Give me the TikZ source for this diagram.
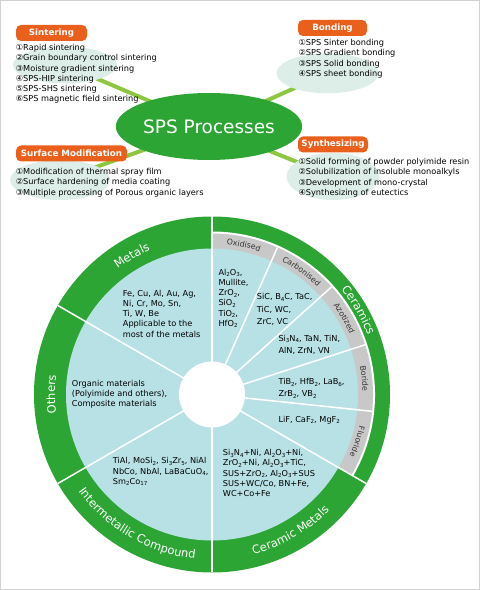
\documentclass[tikz,border=0pt]{standalone}
\usepackage{fontspec}
\setmainfont{DejaVu Sans}
\usetikzlibrary{shapes,positioning,decorations.text,backgrounds}
\definecolor{spsgreen}{RGB}{44,165,52}
\definecolor{spslink}{RGB}{141,198,63}
\definecolor{spsorange}{RGB}{232,96,28}
\definecolor{spsmint}{RGB}{221,238,233}
\definecolor{spsblue}{RGB}{184,225,230}
\definecolor{spsgray}{RGB}{200,200,200}
\definecolor{spsframe}{RGB}{210,210,210}
\newcommand{\sbs}[1]{\raisebox{-0.3ex}{\fontsize{5.5}{6}\selectfont #1}}
\newcommand{\bodyfont}{\fontsize{8.2}{10.2}\selectfont}
\newcommand{\ringfont}{\fontsize{11.5}{12}\selectfont}
\newcommand{\bandfont}{\fontsize{7.8}{8}\selectfont}
\tikzstyle{tag} = [rectangle, rounded corners=5pt, fill=spsorange, text=white, font=\fontsize{8.7}{9}\selectfont\bfseries, minimum height=16pt, inner sep=0pt]
\tikzstyle{blob} = [ellipse, fill=spsmint, inner sep=0pt]
\tikzstyle{link} = [line width=4pt, spslink]
% multi-line text: the base anchor sits on the last line
\tikzstyle{items} = [anchor=base west, align=left, inner sep=0pt, font=\bodyfont]
\tikzstyle{divider} = [white, line width=1.5pt]
\tikzset{
  ringlabel/.style={decorate, decoration={text along path, text align=center, text color=white, text={|\ringfont|#1}}},
  bandlabel/.style={decorate, decoration={text along path, text align=center, text color=black!80, text={|\bandfont|#1}}}
}

\begin{document}
\begin{tikzpicture}[x=1pt, y=1pt]
\useasboundingbox (0,0) rectangle (480,590);
\draw[spsframe, line width=1pt] (0.5,0.5) rectangle (479.5,589.5);

% Process map
\node[blob, minimum width=104, minimum height=37] (sinblob) at (65,525) {};
\node[blob, minimum width=102, minimum height=40] (bonblob) at (327.5,516.7) {};
\node[blob, minimum width=100, minimum height=40] (surblob) at (60,410) {};
\node[blob, minimum width=93, minimum height=47] (synblob) at (333,413.5) {};
\node[ellipse, fill=spsgreen, text=white, minimum width=158, minimum height=67, inner sep=0pt,
      font=\fontsize{18.5}{20}\selectfont] (core) at (209,463.5) {SPS Processes};
\begin{pgfonlayer}{background}
\foreach \b in {sinblob,bonblob,surblob,synblob}
  \draw[link] (\b.center) -- (core.center);
\end{pgfonlayer}

\node[tag, minimum width=71] (sintag) at (51.5,557) {Sintering};
\node[items] (sinlist) at (15.7,488.3) {①Rapid sintering\\②Grain boundary control sintering\\③Moisture gradient sintering\\④SPS-HIP sintering\\⑤SPS-SHS sintering\\⑥SPS magnetic field sintering};

\node[tag, minimum width=69] (bontag) at (332.5,562) {Bonding};
\node[items] (bonlist) at (298.3,513.7) {①SPS Sinter bonding\\②SPS Gradient bonding\\③SPS Solid bonding\\④SPS sheet bonding};

\node[tag, minimum width=111] (surtag) at (71.5,436.5) {Surface Modification};
\node[items] (surlist) at (15.7,394.9) {①Modification of thermal spray film\\②Surface hardening of media coating\\③Multiple processing of Porous organic layers};

\node[tag, minimum width=70] (syntag) at (333,445.5) {Synthesizing};
\node[items] (synlist) at (298.3,394.7) {①Solid forming of powder polyimide resin\\②Solubilization of insoluble monoalkyls\\③Development of mono-crystal\\④Synthesizing of eutectics};

% Materials wheel
\begin{scope}[shift={(212,195.5)}]
\fill[spsgreen] (0,0) circle[radius=178];
\fill[white] (0,0) -- (-30:163) arc[start angle=-30, end angle=90, radius=163] -- cycle;
\fill[spsgray] (0,0) -- (-30:161) arc[start angle=-30, end angle=90, radius=161] -- cycle;
\fill[spsblue] (0,0) circle[radius=146];
\foreach \a in {90,150,210,270,330}
  \draw[divider] (0,0) -- (\a:178);
\foreach \a in {66,42,18,-6}
  \draw[divider] (0,0) -- (\a:161);
\fill[white] (0,0) circle[radius=33];

\path[ringlabel=Metals] (150:157) arc[start angle=150, end angle=90, radius=157];
\path[ringlabel=Others] (210:157) arc[start angle=210, end angle=150, radius=157];
\path[ringlabel=Ceramics] (90:166.5) arc[start angle=90, end angle=-30, radius=166.5];
\path[ringlabel=Intermetallic Compound] (210:165) arc[start angle=210, end angle=270, radius=165];
\path[ringlabel=Ceramic Metals] (270:165) arc[start angle=270, end angle=330, radius=165];

\path[bandlabel=Oxidised] (90:150.6) arc[start angle=90, end angle=66, radius=150.6];
\path[bandlabel=Carbonised] (66:150.6) arc[start angle=66, end angle=42, radius=150.6];
\path[bandlabel=Azotized] (42:150.6) arc[start angle=42, end angle=18, radius=150.6];
\path[bandlabel=Boride] (18:150.6) arc[start angle=18, end angle=-6, radius=150.6];
\path[bandlabel=Fluoride] (-6:150.6) arc[start angle=-6, end angle=-30, radius=150.6];
\end{scope}

\node[items] (metaltxt) at (122.7,252.9) {Fe, Cu, Al, Au, Ag,\\Ni, Cr, Mo, Sn,\\Ti, W, Be\\Applicable to the\\most of the metals};
\node[items] (oxitxt) at (218.3,263.7) {Al\sbs{2}O\sbs{3},\\Mullite,\\ZrO\sbs{2},\\SiO\sbs{2}\\TiO\sbs{2},\\HfO\sbs{2}};
\node[items] (carbtxt) at (256.7,265.1) {SiC, B\sbs{4}C, TaC,\\[2.4pt]TiC, WC,\\[2.4pt]ZrC, VC};
\node[items] (azotxt) at (278.3,236.3) {Si\sbs{3}N\sbs{4}, TaN, TiN,\\[2.2pt]AlN, ZrN, VN};
\node[items] (boritxt) at (278.3,193) {TiB\sbs{2}, HfB\sbs{2}, LaB\sbs{6},\\[2.1pt]ZrB\sbs{2}, VB\sbs{2}};
\node[items] (fluotxt) at (278.3,167.7) {LiF, CaF\sbs{2}, MgF\sbs{2}};
\node[items] (cermettxt) at (222.7,93.5) {Si\sbs{3}N\sbs{4}+Ni, Al\sbs{2}O\sbs{3}+Ni,\\ZrO\sbs{2}+Ni, Al\sbs{2}O\sbs{3}+TiC,\\SUS+ZrO\sbs{2}, Al\sbs{2}O\sbs{3}+SUS\\SUS+WC/Co, BN+Fe,\\WC+Co+Fe};
\node[items] (othertxt) at (71.7,183.3) {Organic materials\\(Polyimide and others),\\Composite materials};
\node[items] (intertxt) at (112.7,105.6) {TiAl, MoSi\sbs{2}, Si\sbs{3}Zr\sbs{5}, NiAl\\NbCo, NbAl, LaBaCuO\sbs{4},\\Sm\sbs{2}Co\sbs{17}};
\end{tikzpicture}
\end{document}
